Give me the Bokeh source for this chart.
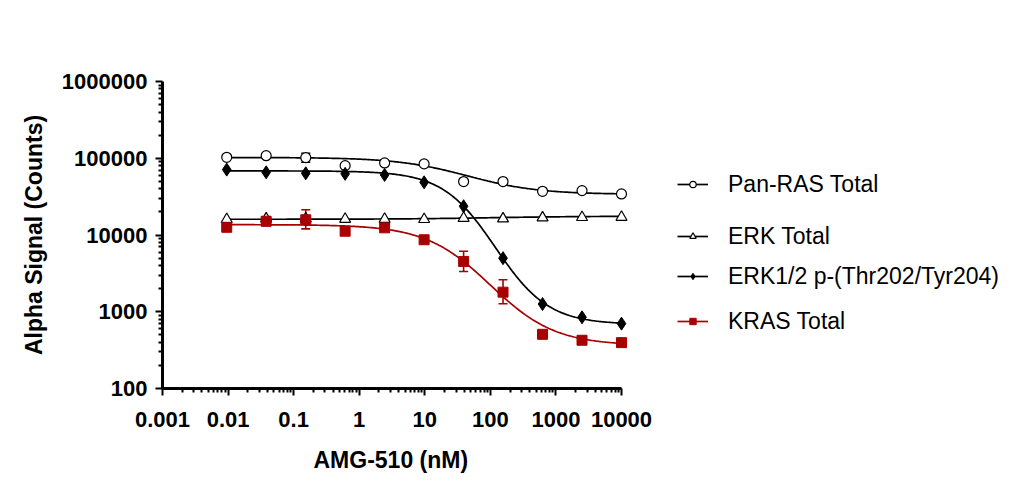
import numpy as np
from bokeh.plotting import figure
from bokeh.models import (Range1d, FixedTicker, ColumnDataSource, Whisker, TeeHead,
                          Legend, LegendItem, Title)
from bokeh.embed import file_html
from bokeh.resources import INLINE

# ---------------- data ----------------
dose_nM = [0.00954, 0.0381, 0.153, 0.610, 2.44, 9.77, 39.1, 156, 625, 2500, 10000]

pan_ras_total = [102800, 108000, 102000, 80100, 86900, 84400, 49700, 49700, 37100, 37900, 34300]
erk_total = [16000, 16300, 16300, 16100, 16100, 16000, 16600, 16300, 16800, 17000, 17100]
erk_phospho = [71100, 65600, 63700, 62600, 60700, 48600, 23700, 4990, 1260, 846, 700]
kras_total = [12600, 15100, 15800, 11200, 12400, 8670, 4520, 1800, 508, 425, 396]

# error bars (dose, lower, upper)
pan_ras_err_dose = [0.153]
pan_ras_err_low = [88500]
pan_ras_err_high = [116000]
kras_err_dose = [0.0381, 0.153, 39.1, 156]
kras_err_low = [13200, 12000, 3350, 1270]
kras_err_high = [17200, 21300, 6150, 2610]

# fitted curve parameters: log10 top, log10 bottom, IC50 (nM), Hill slope
fit_pan_ras = [5.01, 4.53, 45.0, 0.8]
fit_erk_total = [4.205, 4.245, 100.0, 0.6]
fit_erk_phospho = [4.835, 2.835, 120.0, 1.075]
fit_kras = [4.135, 2.56, 100.0, 0.877]

x_axis_limits = [0.001, 10000]
x_ticks = [0.001, 0.01, 0.1, 1, 10, 100, 1000, 10000]
x_tick_labels = ["0.001", "0.01", "0.1", "1", "10", "100", "1000", "10000"]
y_ticks = [100, 1000, 10000, 100000, 1000000]
y_tick_labels = ["100", "1000", "10000", "100000", "1000000"]

series_names = ["Pan-RAS Total", "ERK Total", "ERK1/2 p-(Thr202/Tyr204)", "KRAS Total"]
x_title = "AMG-510 (nM)"
y_title = "Alpha Signal (Counts)"

RED = "#A80000"
BLACK = "#000000"
FONT = "Liberation Sans"

# layout geometry (pixels)
W, H = 1024, 496
LEFT, TOP, BOTTOM = 162, 81, 108
AXIS_PX = 459  # pixel length of the drawn x axis (0.001 .. 10000)


def fit_curve(params, xs):
    lt, lb, ic, h = params
    return 10 ** (lb + (lt - lb) / (1 + (xs / ic) ** h))


def minor_ticks(majors):
    out = []
    for m in majors[:-1]:
        for k in range(2, 10):
            out.append(m * k)
    return out


# extend the plotting frame to the right edge so the legend can sit inside it;
# the visible x axis is limited to 0.001 .. 10000 via axis bounds
dec = np.log10(x_axis_limits[1]) - np.log10(x_axis_limits[0])
frame_w = W - LEFT
x_end = 10 ** (np.log10(x_axis_limits[0]) + dec * frame_w / AXIS_PX)

p = figure(width=W, height=H, x_axis_type="log", y_axis_type="log",
           x_range=Range1d(x_axis_limits[0], x_end), y_range=Range1d(100, 1000000),
           output_backend="svg", toolbar_location=None,
           min_border_left=LEFT, min_border_right=0,
           min_border_top=TOP, min_border_bottom=BOTTOM)
p.outline_line_color = None
p.xgrid.visible = False
p.ygrid.visible = False
p.background_fill_color = "white"
p.border_fill_color = "white"

xs = np.logspace(np.log10(dose_nM[0]), np.log10(dose_nM[-1]), 300)

# curves
l_pan = p.line(xs, fit_curve(fit_pan_ras, xs), line_color=BLACK, line_width=1.7)
l_erk = p.line(xs, fit_curve(fit_erk_total, xs), line_color=BLACK, line_width=1.7)
l_erkp = p.line(xs, fit_curve(fit_erk_phospho, xs), line_color=BLACK, line_width=1.7)
l_kras = p.line(xs, fit_curve(fit_kras, xs), line_color=RED, line_width=1.7)

# error bars
src_pe = ColumnDataSource(dict(base=pan_ras_err_dose, lower=pan_ras_err_low, upper=pan_ras_err_high))
src_ke = ColumnDataSource(dict(base=kras_err_dose, lower=kras_err_low, upper=kras_err_high))
for src, col in ((src_pe, BLACK), (src_ke, RED)):
    w = Whisker(source=src, base="base", lower="lower", upper="upper", dimension="height",
                line_color=col, line_width=1.6,
                upper_head=TeeHead(size=9, line_color=col, line_width=1.6),
                lower_head=TeeHead(size=9, line_color=col, line_width=1.6))
    p.add_layout(w)

# markers
s_pan = p.scatter(dose_nM, pan_ras_total, marker="circle", size=10,
                  fill_color="white", line_color=BLACK, line_width=1.2)
s_erk = p.scatter(dose_nM, erk_total, marker="triangle", size=11,
                  fill_color="white", line_color=BLACK, line_width=1.2)
s_erkp = p.scatter(dose_nM, erk_phospho, marker="diamond", size=13,
                   fill_color=BLACK, line_color=BLACK, line_width=1)
s_kras = p.scatter(dose_nM, kras_total, marker="square", size=10,
                   fill_color=RED, line_color=RED, line_width=1)

# axes
for ax in (p.xaxis[0], p.yaxis[0]):
    ax.axis_line_width = 3
    ax.axis_line_color = BLACK
    ax.major_tick_line_width = 2
    ax.minor_tick_line_width = 2
    ax.major_tick_out = 7
    ax.major_tick_in = 0
    ax.minor_tick_out = 4
    ax.minor_tick_in = 0
    ax.major_label_text_font = FONT
    ax.major_label_text_font_style = "bold"
    ax.major_label_text_font_size = "22px"
    ax.major_label_text_color = BLACK
    ax.axis_label_text_font = FONT
    ax.axis_label_text_font_style = "bold"
    ax.axis_label_text_font_size = "23px"
    ax.axis_label_text_color = BLACK

p.xaxis[0].major_label_standoff = 16
p.yaxis[0].major_label_standoff = 8
p.xaxis[0].bounds = (x_axis_limits[0], x_axis_limits[1])
p.xaxis[0].ticker = FixedTicker(ticks=x_ticks, minor_ticks=minor_ticks(x_ticks))
p.yaxis[0].ticker = FixedTicker(ticks=y_ticks, minor_ticks=minor_ticks(y_ticks))
p.xaxis[0].major_label_overrides = {t: l for t, l in zip(x_ticks, x_tick_labels)}
p.yaxis[0].major_label_overrides = {t: l for t, l in zip(y_ticks, y_tick_labels)}
p.yaxis[0].axis_label = y_title
p.yaxis[0].axis_label_standoff = 12

# x axis title centred under the drawn axis (frame is wider than the axis)
xt = Title(text=x_title, align="left", offset=151, standoff=30,
           text_font=FONT, text_font_style="bold", text_font_size="23px",
           text_color=BLACK)
p.add_layout(xt, "below")

# legends (one per entry to reproduce the uneven spacing)
legend_renderers = [[l_pan, s_pan], [l_erk, s_erk], [l_erkp, s_erkp], [l_kras, s_kras]]
legend_centers_px = [185, 237, 277, 322]
frame_bottom = H - BOTTOM
for name, rs, cy in zip(series_names, legend_renderers, legend_centers_px):
    lg = Legend(items=[LegendItem(label=name, renderers=rs)],
                location=(677 - LEFT, frame_bottom - cy - 12.5),
                padding=0, margin=0, spacing=0, border_line_color=None,
                background_fill_alpha=0, glyph_width=31, glyph_height=16,
                label_height=25,
                label_standoff=20, label_text_font=FONT, label_text_font_size="23px",
                label_text_color=BLACK)
    p.add_layout(lg)

open("out.html", "w").write(file_html(p, INLINE))
